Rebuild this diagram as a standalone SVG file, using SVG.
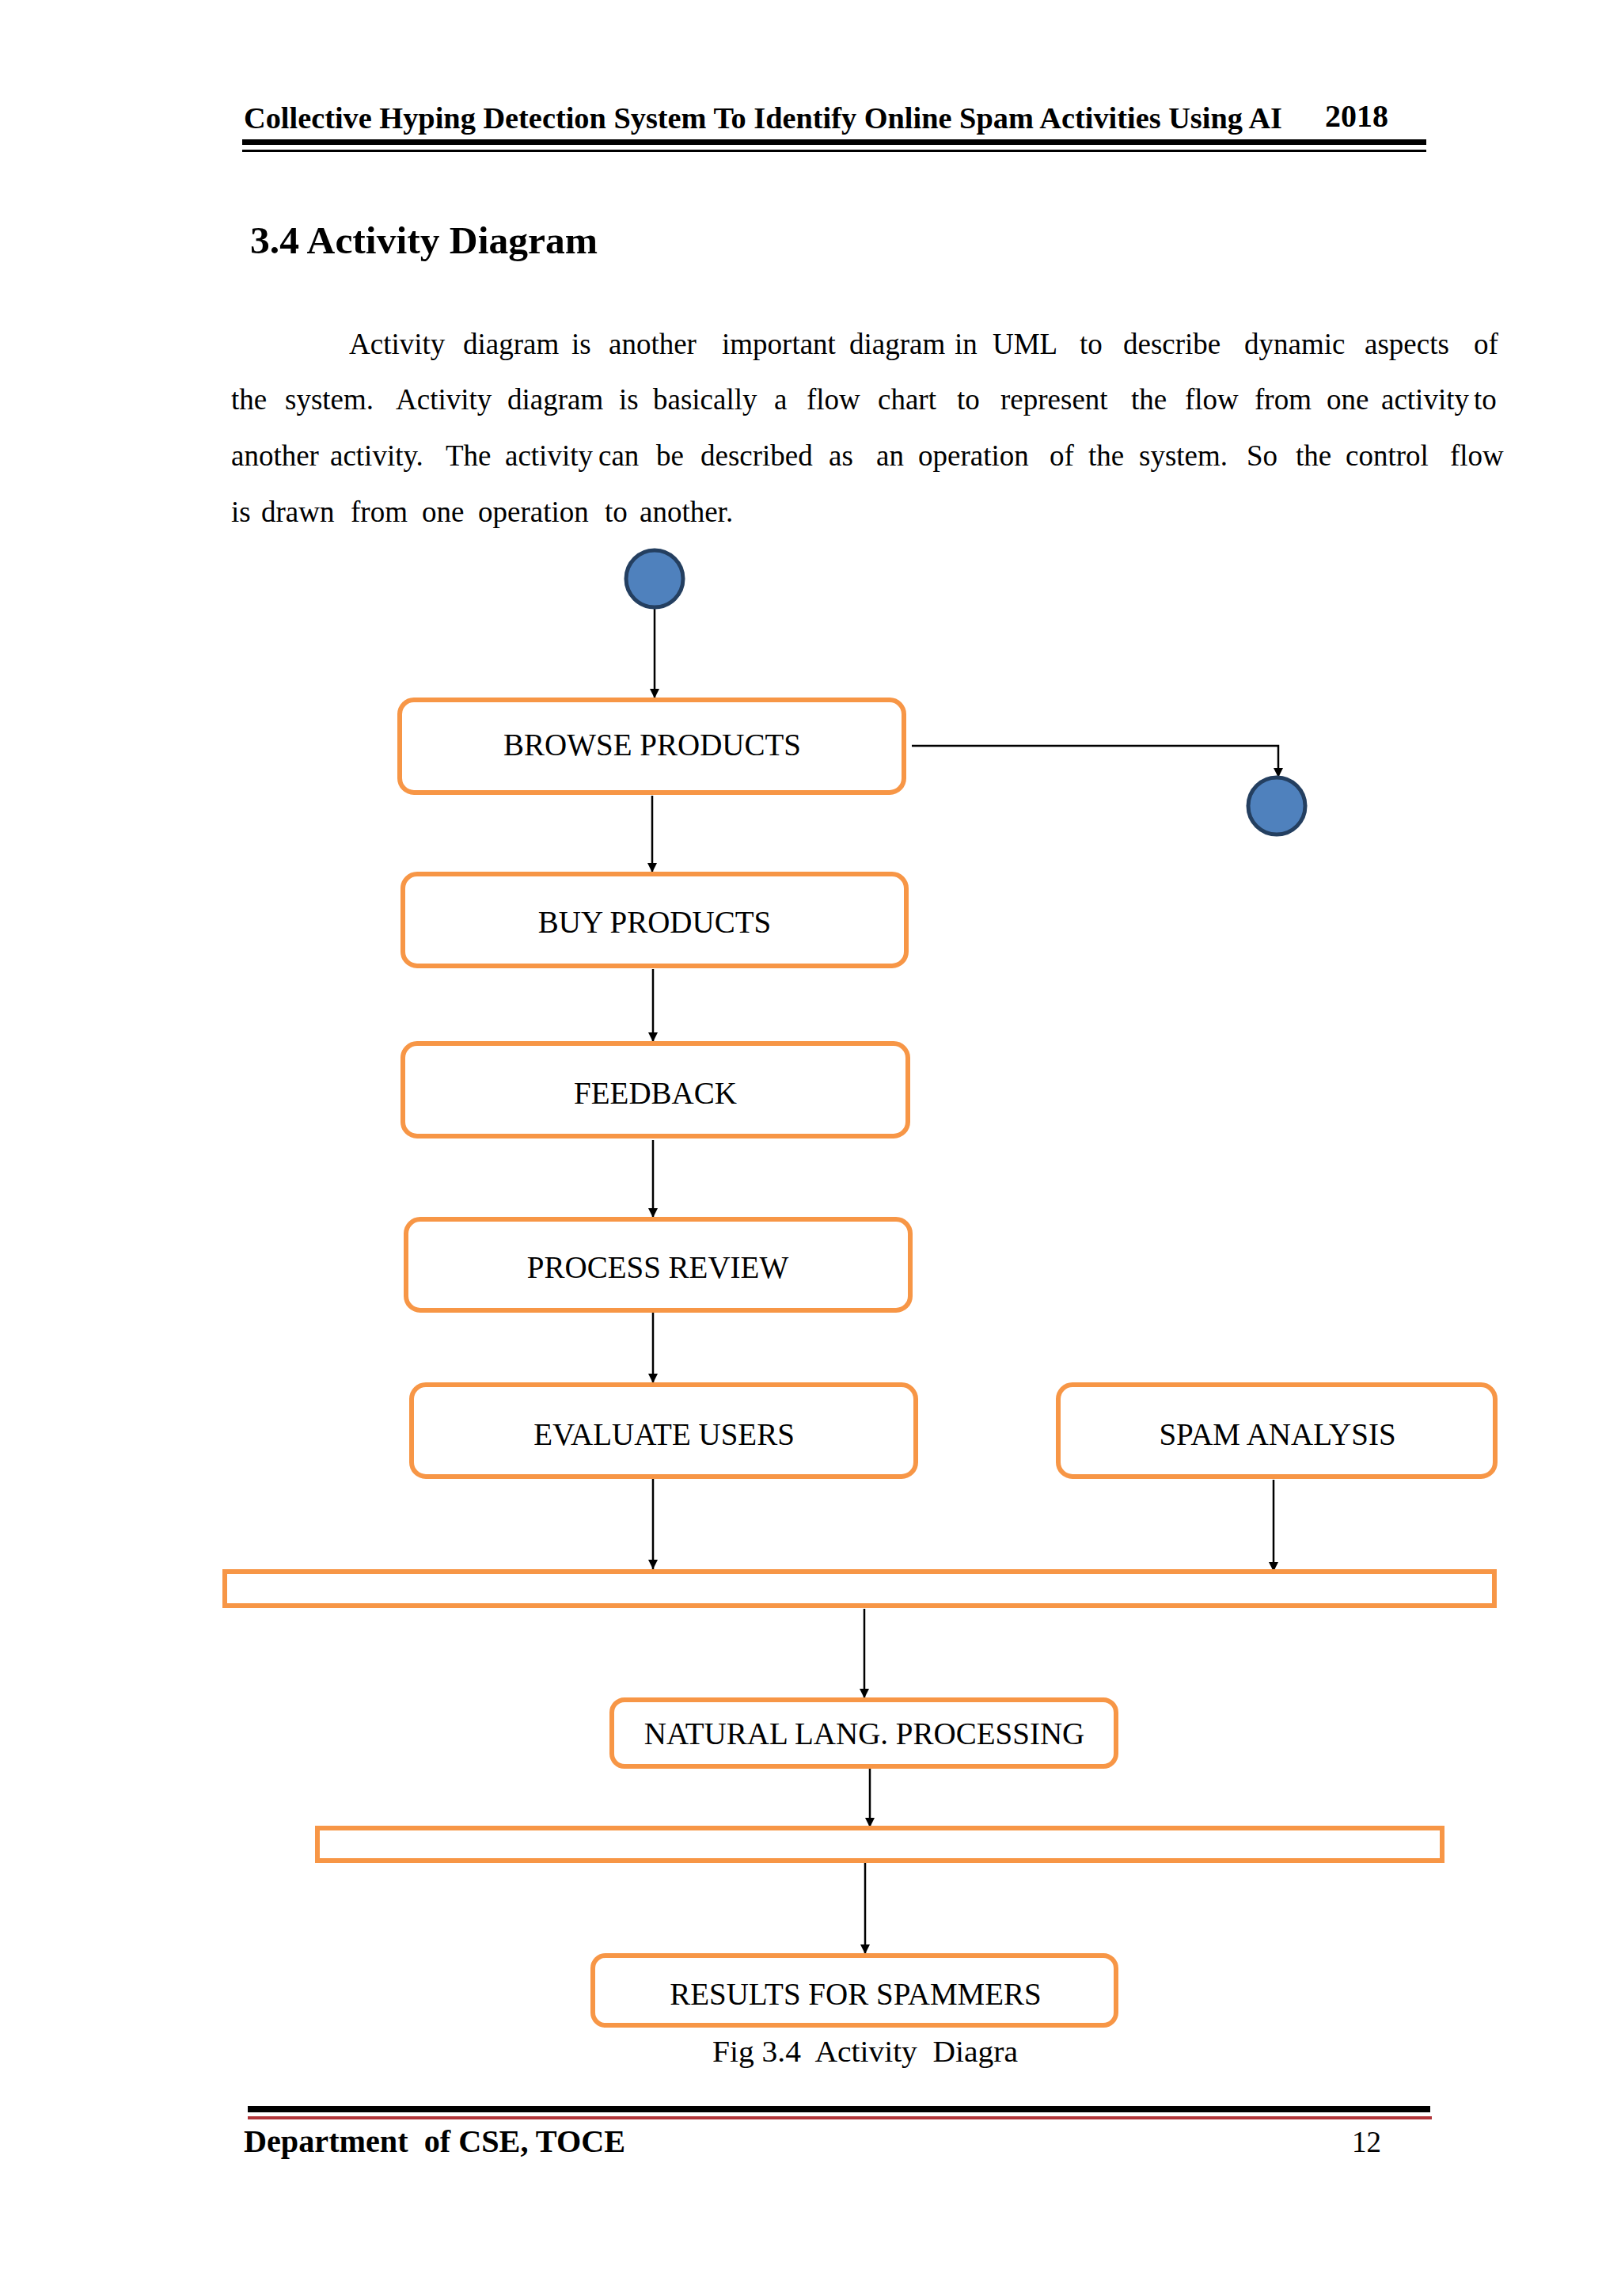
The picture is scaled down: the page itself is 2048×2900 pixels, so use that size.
<svg xmlns="http://www.w3.org/2000/svg" width="2048" height="2900" viewBox="0 0 2048 2900">
<defs>
<style>
.hdr{font-family:"Liberation Serif","Times New Roman",serif;font-weight:bold;fill:#000}
.body{font-family:"Liberation Serif","Times New Roman",serif;font-size:37px;fill:#000}
.lbl{font-family:"Liberation Serif","Times New Roman",serif;font-size:39px;fill:#000;text-anchor:middle}
.box{fill:#fff;stroke:#F79646;stroke-width:6}
.circ{fill:#4F81BD;stroke:#243F60;stroke-width:5}
.con{stroke:#000;stroke-width:2.5;fill:none}
</style>
<marker id="ah" viewBox="0 0 10 10" refX="10" refY="5" markerWidth="5" markerHeight="5.5" markerUnits="strokeWidth" orient="auto">
<path d="M0,0 L10,5 L0,10 z" fill="#000"/>
</marker>
</defs>
<rect x="0" y="0" width="2048" height="2900" fill="#fff"/>

<g id="header">
<text class="hdr" x="308" y="162" font-size="37" textLength="1312" lengthAdjust="spacingAndGlyphs">Collective Hyping Detection System To Identify Online Spam Activities Using AI</text>
<text class="hdr" x="1674" y="160" font-size="40" textLength="80" lengthAdjust="spacingAndGlyphs">2018</text>
<rect x="306" y="176" width="1496" height="7" fill="#000"/>
<rect x="306" y="189" width="1496" height="3" fill="#000"/>
</g>

<g id="title">
<text class="hdr" x="316" y="320" font-size="48" textLength="439" lengthAdjust="spacingAndGlyphs">3.4 Activity Diagram</text>
</g>

<g id="paragraph">
<text class="body" y="447"><tspan x="441">Activity</tspan><tspan x="585">diagram</tspan><tspan x="722">is</tspan><tspan x="769">another</tspan><tspan x="912">important</tspan><tspan x="1073">diagram</tspan><tspan x="1206">in</tspan><tspan x="1254">UML</tspan><tspan x="1364">to</tspan><tspan x="1419">describe</tspan><tspan x="1572">dynamic</tspan><tspan x="1724">aspects</tspan><tspan x="1862">of</tspan></text>
<text class="body" y="517"><tspan x="292">the</tspan><tspan x="360">system.</tspan><tspan x="500">Activity</tspan><tspan x="641">diagram</tspan><tspan x="782">is</tspan><tspan x="825">basically</tspan><tspan x="978">a</tspan><tspan x="1019">flow</tspan><tspan x="1109">chart</tspan><tspan x="1209">to</tspan><tspan x="1264">represent</tspan><tspan x="1429">the</tspan><tspan x="1497">flow</tspan><tspan x="1585">from</tspan><tspan x="1676">one</tspan><tspan x="1745">activity</tspan><tspan x="1862">to</tspan></text>
<text class="body" y="588"><tspan x="292">another</tspan><tspan x="417">activity.</tspan><tspan x="563">The</tspan><tspan x="638">activity</tspan><tspan x="756">can</tspan><tspan x="829">be</tspan><tspan x="885">described</tspan><tspan x="1047">as</tspan><tspan x="1107">an</tspan><tspan x="1160">operation</tspan><tspan x="1326">of</tspan><tspan x="1375">the</tspan><tspan x="1439">system.</tspan><tspan x="1575">So</tspan><tspan x="1637">the</tspan><tspan x="1700">control</tspan><tspan x="1832">flow</tspan></text>
<text class="body" y="659"><tspan x="292">is</tspan><tspan x="330">drawn</tspan><tspan x="443">from</tspan><tspan x="533">one</tspan><tspan x="604">operation</tspan><tspan x="764">to</tspan><tspan x="808">another.</tspan></text>
</g>

<g id="connectors">
<line class="con" x1="827" y1="768" x2="827" y2="882" marker-end="url(#ah)"/>
<line class="con" x1="824" y1="1005" x2="824" y2="1102" marker-end="url(#ah)"/>
<line class="con" x1="825" y1="1224" x2="825" y2="1316" marker-end="url(#ah)"/>
<line class="con" x1="825" y1="1440" x2="825" y2="1538" marker-end="url(#ah)"/>
<line class="con" x1="825" y1="1658" x2="825" y2="1747" marker-end="url(#ah)"/>
<line class="con" x1="825" y1="1868" x2="825" y2="1982" marker-end="url(#ah)"/>
<line class="con" x1="1609" y1="1869" x2="1609" y2="1985" marker-end="url(#ah)"/>
<line class="con" x1="1092" y1="2032" x2="1092" y2="2145" marker-end="url(#ah)"/>
<line class="con" x1="1099" y1="2226" x2="1099" y2="2308" marker-end="url(#ah)"/>
<line class="con" x1="1093" y1="2352" x2="1093" y2="2468" marker-end="url(#ah)"/>
<polyline class="con" points="1152,942 1615,942 1615,982" stroke-width="3.5" marker-end="url(#ah)"/>
</g>

<g id="start">
<circle class="circ" cx="827" cy="731" r="36"/>
</g>
<g id="end">
<circle class="circ" cx="1613" cy="1018" r="36"/>
</g>

<g id="browse">
<rect class="box" x="505" y="884" width="637" height="117" rx="18"/>
<text class="lbl" x="824" y="954">BROWSE PRODUCTS</text>
</g>
<g id="buy">
<rect class="box" x="509" y="1104" width="636" height="116" rx="18"/>
<text class="lbl" x="827" y="1178">BUY PRODUCTS</text>
</g>
<g id="feedback">
<rect class="box" x="509" y="1318" width="638" height="117" rx="18"/>
<text class="lbl" x="828" y="1394">FEEDBACK</text>
</g>
<g id="process">
<rect class="box" x="513" y="1540" width="637" height="115" rx="18"/>
<text class="lbl" x="831" y="1614">PROCESS REVIEW</text>
</g>
<g id="evaluate">
<rect class="box" x="520" y="1749" width="637" height="116" rx="18"/>
<text class="lbl" x="839" y="1825">EVALUATE USERS</text>
</g>
<g id="spam">
<rect class="box" x="1337" y="1749" width="552" height="116" rx="18"/>
<text class="lbl" x="1614" y="1825">SPAM ANALYSIS</text>
</g>
<g id="fork1">
<rect class="box" x="284" y="1985" width="1604" height="43"/>
</g>
<g id="nlp">
<rect class="box" x="773" y="2147" width="637" height="84" rx="16"/>
<text class="lbl" x="1092" y="2203">NATURAL LANG. PROCESSING</text>
</g>
<g id="fork2">
<rect class="box" x="401" y="2309" width="1421" height="41"/>
</g>
<g id="results">
<rect class="box" x="749" y="2470" width="661" height="88" rx="16"/>
<text class="lbl" x="1081" y="2532">RESULTS FOR SPAMMERS</text>
</g>

<g id="caption">
<text class="body" x="900" y="2604" font-size="37" textLength="386" lengthAdjust="spacingAndGlyphs" xml:space="preserve">Fig 3.4  Activity  Diagra</text>
</g>

<g id="footer">
<rect x="313" y="2660" width="1494" height="8" fill="#000"/>
<rect x="313" y="2673" width="1496" height="4" fill="#B0353A"/>
<text class="hdr" x="308" y="2718" font-size="40" textLength="482" lengthAdjust="spacingAndGlyphs" xml:space="preserve">Department  of CSE, TOCE</text>
<text class="body" x="1708" y="2718" font-size="40">12</text>
</g>
</svg>
